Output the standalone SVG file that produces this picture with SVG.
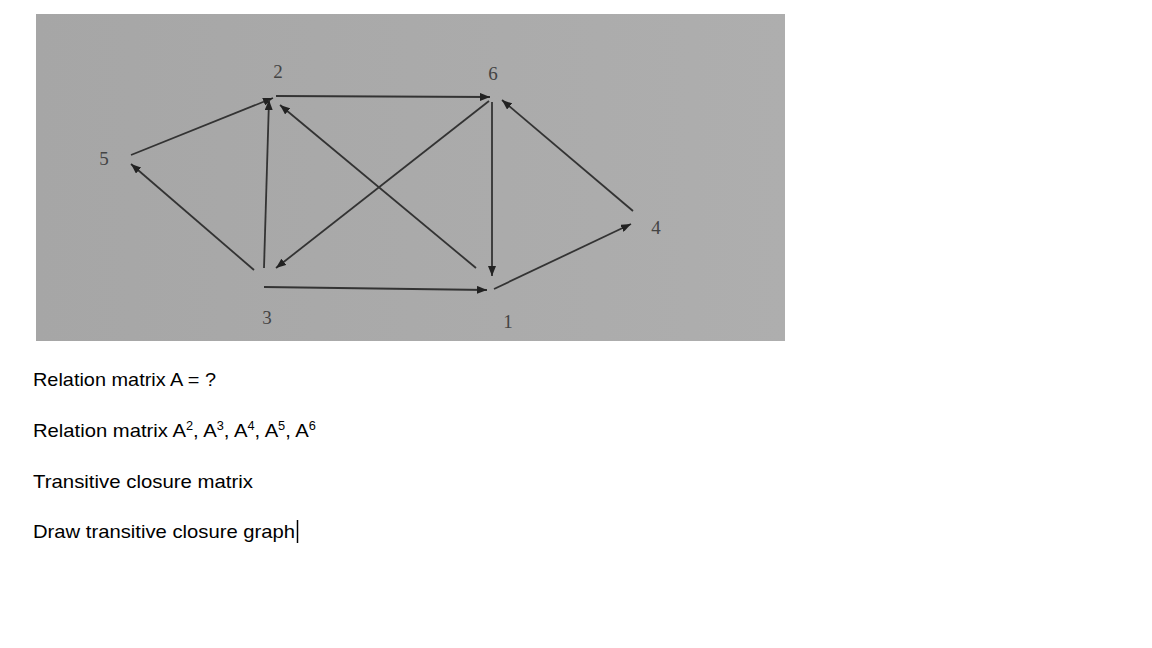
<svg xmlns="http://www.w3.org/2000/svg" width="1152" height="648" viewBox="0 0 1152 648">
<defs>
<linearGradient id="bg" x1="0" y1="0" x2="1" y2="0">
<stop offset="0" stop-color="#a6a6a6"/>
<stop offset="1" stop-color="#aeaeae"/>
</linearGradient>
<marker id="ah" viewBox="0 0 10 8" refX="10" refY="4" markerWidth="10" markerHeight="8" markerUnits="userSpaceOnUse" orient="auto">
<path d="M0,0 L10,4 L0,8 Z" fill="#222"/>
</marker>
<style>
.e{stroke:#333;stroke-width:1.8;fill:none;marker-end:url(#ah)}
.lbl{font-family:"Liberation Serif",serif;font-size:19px;fill:#444}
.t{font-family:"Liberation Sans",Arial,sans-serif;font-size:19px;fill:#000}
.sup{font-size:12px}
</style>
</defs>
<rect width="1152" height="648" fill="#fff"/>
<rect x="36" y="14" width="749" height="327" fill="url(#bg)"/>
<g id="connectors">
<line class="e" x1="131" y1="155" x2="273" y2="98"/>
<line class="e" x1="254" y1="270" x2="131" y2="164"/>
<line class="e" x1="264" y1="268" x2="269" y2="100"/>
<line class="e" x1="476" y1="268" x2="280" y2="105"/>
<line class="e" x1="276" y1="96" x2="490" y2="97"/>
<line class="e" x1="489" y1="101" x2="276" y2="268"/>
<line class="e" x1="492" y1="102" x2="492" y2="276"/>
<line class="e" x1="633" y1="211" x2="502" y2="100"/>
<line class="e" x1="264" y1="287" x2="487" y2="290"/>
<line class="e" x1="494" y1="289" x2="631" y2="224"/>
</g>
<g id="node-2"><text class="lbl" x="278" y="78" text-anchor="middle">2</text></g>
<g id="node-6"><text class="lbl" x="493" y="80" text-anchor="middle">6</text></g>
<g id="node-5"><text class="lbl" x="104" y="165" text-anchor="middle">5</text></g>
<g id="node-4"><text class="lbl" x="656" y="234" text-anchor="middle">4</text></g>
<g id="node-3"><text class="lbl" x="267" y="324" text-anchor="middle">3</text></g>
<g id="node-1"><text class="lbl" x="508" y="328" text-anchor="middle">1</text></g>
<g id="questions">
<text class="t" x="33" y="386" textLength="183" lengthAdjust="spacingAndGlyphs">Relation matrix A = ?</text>
<text class="t" x="33" y="437" textLength="283" lengthAdjust="spacingAndGlyphs">Relation matrix A<tspan class="sup" dy="-7">2</tspan><tspan dy="7">, A</tspan><tspan class="sup" dy="-7">3</tspan><tspan dy="7">, A</tspan><tspan class="sup" dy="-7">4</tspan><tspan dy="7">, A</tspan><tspan class="sup" dy="-7">5</tspan><tspan dy="7">, A</tspan><tspan class="sup" dy="-7">6</tspan></text>
<text class="t" x="33" y="488" textLength="220" lengthAdjust="spacingAndGlyphs">Transitive closure matrix</text>
<text class="t" x="33" y="538" textLength="262" lengthAdjust="spacingAndGlyphs">Draw transitive closure graph</text>
<line x1="297.5" y1="520" x2="297.5" y2="543" stroke="#000" stroke-width="1.5"/>
</g>
</svg>
